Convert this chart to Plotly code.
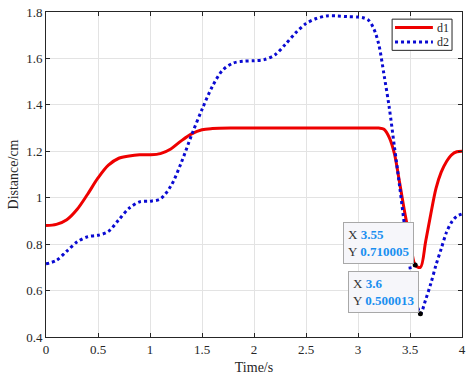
import plotly.graph_objects as go

# ---- data ----
x_d1 = [0, 0.1, 0.2, 0.3, 0.4, 0.5, 0.6, 0.7, 0.8, 0.9, 1.0, 1.1, 1.2, 1.3, 1.4, 1.5, 1.6,
        1.8, 2.0, 2.2, 2.4, 2.6, 2.8, 3.0, 3.2, 3.25, 3.3, 3.35, 3.4, 3.45, 3.5, 3.55, 3.6,
        3.65, 3.7, 3.75, 3.8, 3.85, 3.9, 3.95, 4.0]
d1 = [0.88, 0.885, 0.905, 0.95, 1.015, 1.085, 1.14, 1.17, 1.18, 1.185, 1.185, 1.19, 1.21, 1.245,
      1.275, 1.293, 1.298, 1.3, 1.3, 1.3, 1.3, 1.3, 1.3, 1.3, 1.3, 1.295, 1.26, 1.19, 1.065,
      0.935, 0.82, 0.710005, 0.70, 0.81, 0.93, 1.04, 1.11, 1.155, 1.185, 1.198, 1.2]

x_d2 = [0, 0.1, 0.2, 0.3, 0.4, 0.5, 0.6, 0.7, 0.8, 0.9, 1.0, 1.1, 1.2, 1.3, 1.4, 1.5, 1.6,
        1.7, 1.8, 1.9, 2.0, 2.1, 2.2, 2.3, 2.4, 2.5, 2.6, 2.7, 2.8, 2.9, 3.0, 3.05, 3.1, 3.15,
        3.2, 3.25, 3.3, 3.35, 3.4, 3.45, 3.5, 3.55, 3.6, 3.65, 3.7, 3.75, 3.8, 3.85, 3.9,
        3.95, 4.0]
d2 = [0.715, 0.73, 0.77, 0.81, 0.832, 0.838, 0.855, 0.905, 0.955, 0.982, 0.985, 0.995, 1.05,
      1.15, 1.27, 1.38, 1.48, 1.55, 1.58, 1.588, 1.59, 1.595, 1.615, 1.66, 1.71, 1.75, 1.772,
      1.783, 1.783, 1.78, 1.778, 1.775, 1.765, 1.73, 1.66, 1.53, 1.39, 1.22, 1.05, 0.87,
      0.70, 0.58, 0.500013, 0.56, 0.63, 0.71, 0.78, 0.85, 0.895, 0.92, 0.93]

tips_x = [3.55, 3.6]
tips_y = [0.710005, 0.500013]
tips_lbl_x = ["3.55", "3.6"]
tips_lbl_y = ["0.710005", "0.500013"]

series_names = ["d1", "d2"]

x_ticks = [0, 0.5, 1, 1.5, 2, 2.5, 3, 3.5, 4]
x_tick_text = ["0", "0.5", "1", "1.5", "2", "2.5", "3", "3.5", "4"]
y_ticks = [0.4, 0.6, 0.8, 1.0, 1.2, 1.4, 1.6, 1.8]
y_tick_text = ["0.4", "0.6", "0.8", "1", "1.2", "1.4", "1.6", "1.8"]

FONT = "Liberation Serif, Times New Roman, serif"
AX = "#262626"
GRID = "#e3e3e3"
TIPBLUE = "#1a8ff0"
RED = "#ee0000"
BLUE = "#0a0ad2"

fig = go.Figure()
fig.add_trace(go.Scatter(x=x_d1, y=d1, mode="lines", name=series_names[0], showlegend=False,
                         line=dict(color=RED, width=3, shape="spline", smoothing=0.9)))
fig.add_trace(go.Scatter(x=x_d2, y=d2, mode="lines", name=series_names[1], showlegend=False,
                         line=dict(color=BLUE, width=3, dash="dot", shape="spline",
                                   smoothing=0.9)))
fig.add_trace(go.Scatter(x=tips_x, y=tips_y, mode="markers", showlegend=False,
                         marker=dict(color="black", size=5)))

for tx, ty, lx, ly in zip(tips_x, tips_y, tips_lbl_x, tips_lbl_y):
    fig.add_annotation(
        x=tx, y=ty, xref="x", yref="y", showarrow=False,
        xanchor="right", yanchor="bottom", xshift=-1, yshift=1, align="left",
        text=(f"X <span style='color:{TIPBLUE}'><b>{lx}</b></span><br>"
              f"Y <span style='color:{TIPBLUE}'><b>{ly}</b></span>"),
        font=dict(family=FONT, size=13, color="#333333"),
        bgcolor="#f6f6fa", bordercolor="#a8a8a8", borderwidth=1, borderpad=4,
    )

# ---- custom compact legend (MATLAB-style box) ----
fig.add_shape(type="rect", xref="paper", yref="paper", x0=0.832, x1=0.976, y0=0.882, y1=0.978,
              line=dict(color=AX, width=1), fillcolor="white", layer="above")
leg_y = [0.952, 0.908]
leg_style = [dict(color=RED, width=3), dict(color=BLUE, width=3, dash="dot")]
for ly, st, nm in zip(leg_y, leg_style, series_names):
    fig.add_shape(type="line", xref="paper", yref="paper", x0=0.839, x1=0.93, y0=ly, y1=ly,
                  line=st, layer="above")
    fig.add_annotation(x=0.936, y=ly, xref="paper", yref="paper", showarrow=False,
                       xanchor="left", yanchor="middle", text=nm,
                       font=dict(family=FONT, size=12, color="#262626"))

axis_common = dict(showline=True, linecolor=AX, linewidth=1, mirror="ticks",
                   ticks="inside", ticklen=4, tickcolor=AX, showgrid=True,
                   gridcolor=GRID, gridwidth=1, zeroline=False, automargin=False,
                   ticklabeloverflow="allow",
                   tickfont=dict(family=FONT, size=13, color="#262626"))

fig.update_xaxes(range=[0, 4], tickvals=x_ticks, ticktext=x_tick_text,
                 title=dict(text="Time/s", font=dict(family=FONT, size=14, color="#262626"),
                            standoff=6),
                 **axis_common)
fig.update_yaxes(range=[0.4, 1.8], tickvals=y_ticks, ticktext=y_tick_text,
                 title=dict(text="Distance/cm", font=dict(family=FONT, size=14, color="#262626"),
                            standoff=4),
                 **axis_common)

fig.update_layout(
    width=474, height=381,
    margin=dict(l=46, r=12, t=12, b=44, autoexpand=False),
    paper_bgcolor="white", plot_bgcolor="white",
    showlegend=False,
)

fig.write_html("out.html", config={"displayModeBar": False},
               post_script="document.body.style.margin='0';")
